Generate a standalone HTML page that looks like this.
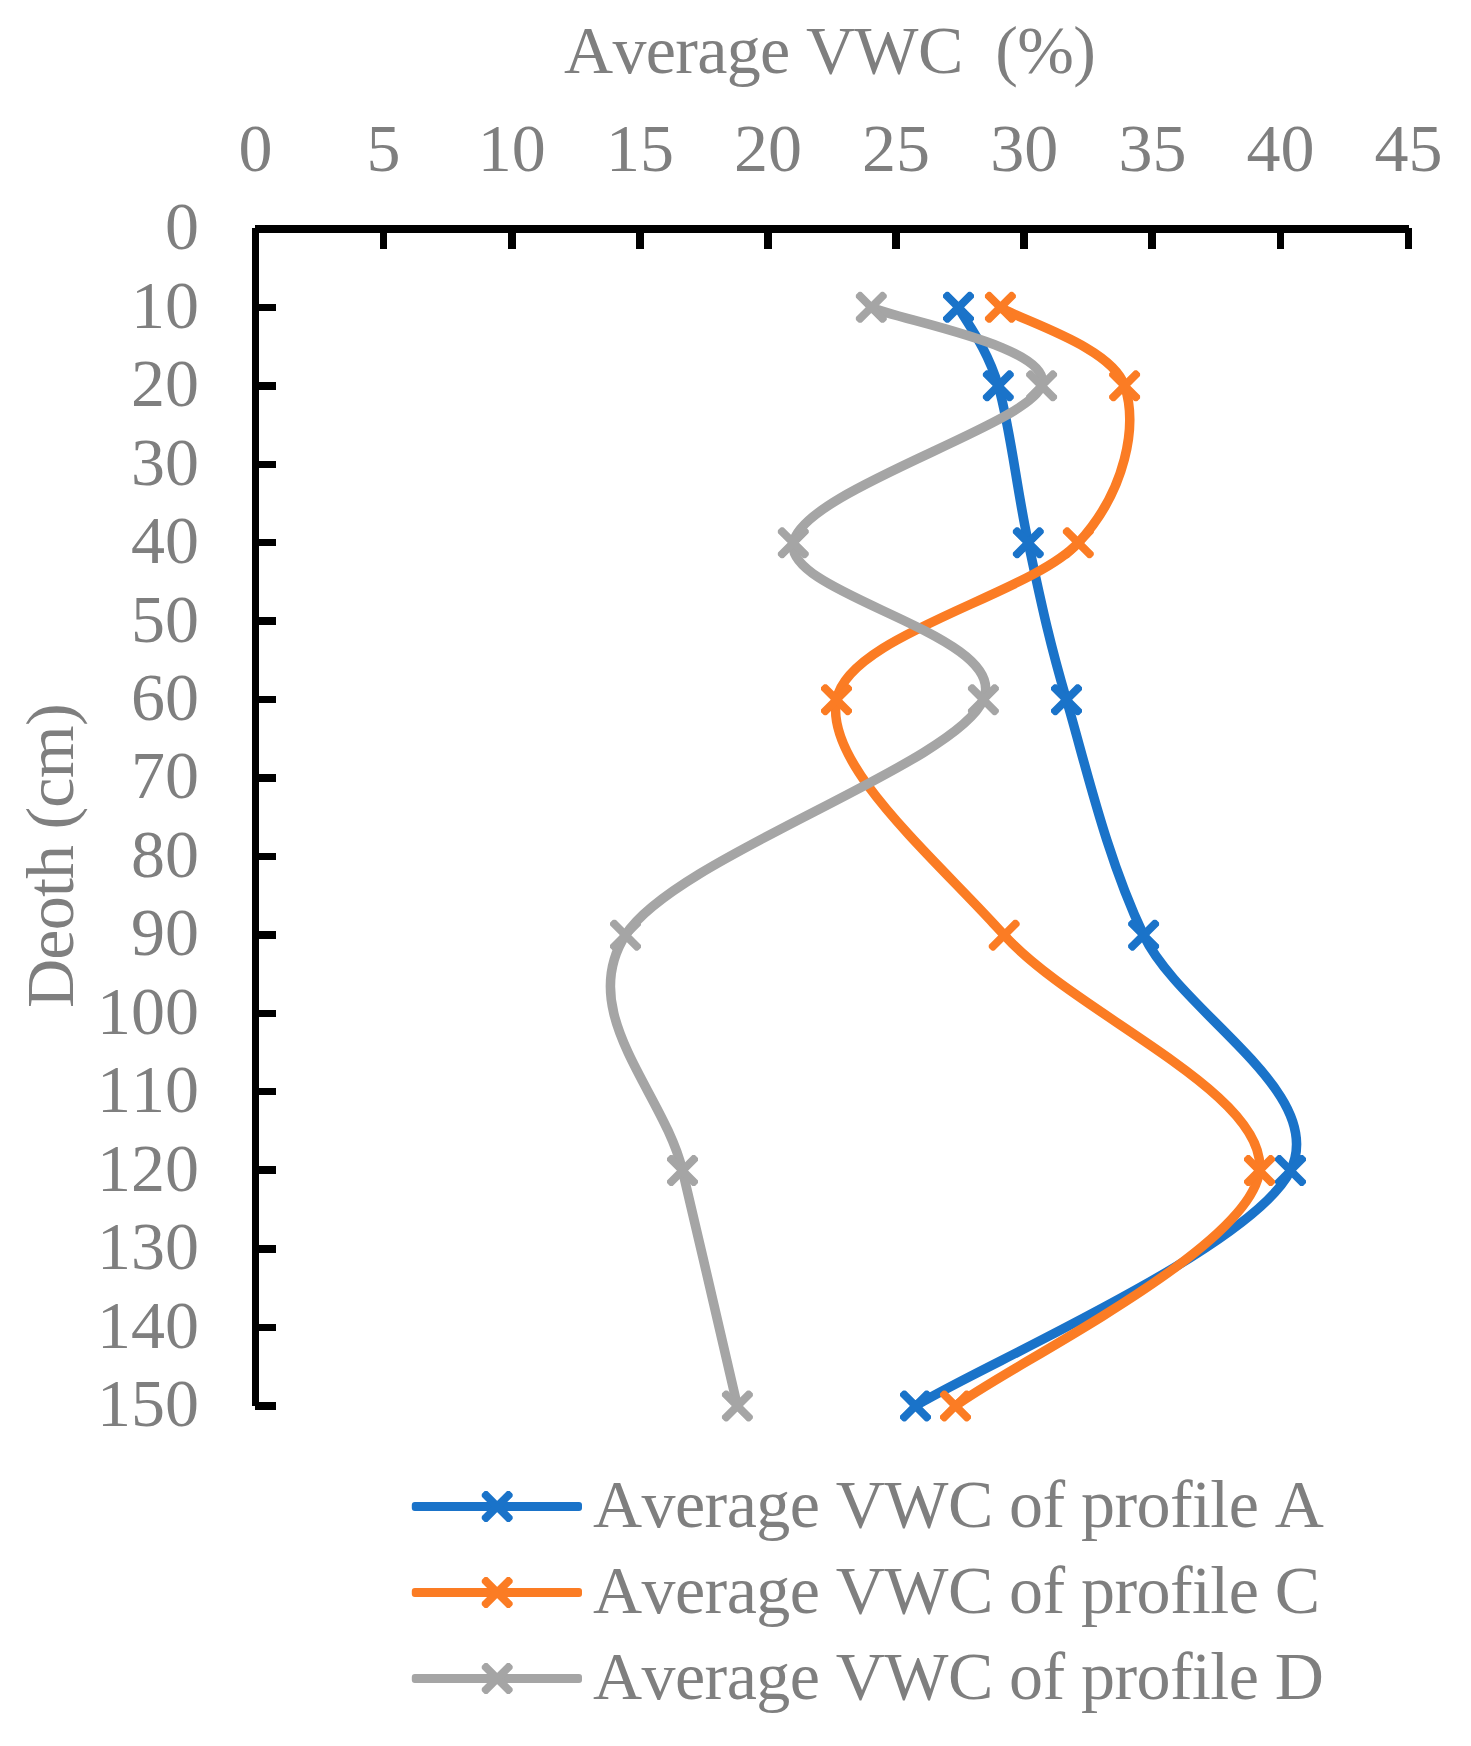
<!DOCTYPE html>
<html><head><meta charset="utf-8"><style>
html,body{margin:0;padding:0;background:#fff;}
svg{display:block;} text{font-kerning:none;font-feature-settings:"kern" 0, "liga" 0;}
</style></head><body>
<svg width="1471" height="1746" viewBox="0 0 1471 1746">
<defs><clipPath id="xc" clipPathUnits="objectBoundingBox"><rect x="-0.05357" y="-0.05357" width="1.10714" height="1.10714"/></clipPath></defs>
<rect width="1471" height="1746" fill="#fff"/>
<rect x="255" y="225" width="1154" height="8" fill="#000"/>
<rect x="252" y="228" width="7" height="1178" fill="#000"/>
<rect x="380" y="233" width="7" height="16" fill="#000"/>
<rect x="508" y="233" width="8" height="16" fill="#000"/>
<rect x="636" y="233" width="8" height="16" fill="#000"/>
<rect x="764" y="233" width="8" height="16" fill="#000"/>
<rect x="892" y="233" width="8" height="16" fill="#000"/>
<rect x="1020" y="233" width="8" height="16" fill="#000"/>
<rect x="1148" y="233" width="8" height="16" fill="#000"/>
<rect x="1277" y="233" width="7" height="16" fill="#000"/>
<rect x="1405" y="228" width="7" height="21" fill="#000"/>
<rect x="259" y="304" width="17" height="7" fill="#000"/>
<rect x="259" y="382" width="17" height="8" fill="#000"/>
<rect x="259" y="461" width="17" height="7" fill="#000"/>
<rect x="259" y="539" width="17" height="7" fill="#000"/>
<rect x="259" y="617" width="17" height="8" fill="#000"/>
<rect x="259" y="696" width="17" height="7" fill="#000"/>
<rect x="259" y="774" width="17" height="8" fill="#000"/>
<rect x="259" y="853" width="17" height="7" fill="#000"/>
<rect x="259" y="931" width="17" height="8" fill="#000"/>
<rect x="259" y="1010" width="17" height="7" fill="#000"/>
<rect x="259" y="1088" width="17" height="7" fill="#000"/>
<rect x="259" y="1166" width="17" height="8" fill="#000"/>
<rect x="259" y="1245" width="17" height="8" fill="#000"/>
<rect x="259" y="1324" width="17" height="7" fill="#000"/>
<rect x="255" y="1402" width="21" height="8" fill="#000"/>
<path d="M958.50,307.37 C965.13,320.45 986.67,346.61 998.30,385.84 C1009.93,425.08 1016.93,490.47 1028.30,542.78 C1039.67,595.09 1047.28,634.33 1066.50,699.72 C1085.72,765.11 1106.27,856.66 1143.60,935.13 C1180.93,1013.60 1328.52,1092.07 1290.50,1170.54 C1252.48,1249.01 978.00,1366.72 915.50,1405.95" stroke="#1A73C9" stroke-width="9.5" fill="none" stroke-linejoin="round" stroke-linecap="round"/>
<path d="M944.50,293.37 L972.50,321.37 M944.50,321.37 L972.50,293.37" stroke="#1A73C9" stroke-width="8" fill="none" clip-path="url(#xc)"/>
<path d="M984.30,371.84 L1012.30,399.84 M984.30,399.84 L1012.30,371.84" stroke="#1A73C9" stroke-width="8" fill="none" clip-path="url(#xc)"/>
<path d="M1014.30,528.78 L1042.30,556.78 M1014.30,556.78 L1042.30,528.78" stroke="#1A73C9" stroke-width="8" fill="none" clip-path="url(#xc)"/>
<path d="M1052.50,685.72 L1080.50,713.72 M1052.50,713.72 L1080.50,685.72" stroke="#1A73C9" stroke-width="8" fill="none" clip-path="url(#xc)"/>
<path d="M1129.60,921.13 L1157.60,949.13 M1129.60,949.13 L1157.60,921.13" stroke="#1A73C9" stroke-width="8" fill="none" clip-path="url(#xc)"/>
<path d="M1276.50,1156.54 L1304.50,1184.54 M1276.50,1184.54 L1304.50,1156.54" stroke="#1A73C9" stroke-width="8" fill="none" clip-path="url(#xc)"/>
<path d="M901.50,1391.95 L929.50,1419.95 M901.50,1419.95 L929.50,1391.95" stroke="#1A73C9" stroke-width="8" fill="none" clip-path="url(#xc)"/>
<path d="M1000.40,307.37 C1021.10,320.45 1111.62,346.61 1124.60,385.84 C1137.58,425.08 1126.32,490.47 1078.30,542.78 C1030.28,595.09 848.85,634.33 836.50,699.72 C824.15,765.11 933.70,856.66 1004.20,935.13 C1074.70,1013.60 1267.62,1092.07 1259.50,1170.54 C1251.38,1249.01 1006.17,1366.72 955.50,1405.95" stroke="#FB7C24" stroke-width="9.5" fill="none" stroke-linejoin="round" stroke-linecap="round"/>
<path d="M986.40,293.37 L1014.40,321.37 M986.40,321.37 L1014.40,293.37" stroke="#FB7C24" stroke-width="8" fill="none" clip-path="url(#xc)"/>
<path d="M1110.60,371.84 L1138.60,399.84 M1110.60,399.84 L1138.60,371.84" stroke="#FB7C24" stroke-width="8" fill="none" clip-path="url(#xc)"/>
<path d="M1064.30,528.78 L1092.30,556.78 M1064.30,556.78 L1092.30,528.78" stroke="#FB7C24" stroke-width="8" fill="none" clip-path="url(#xc)"/>
<path d="M822.50,685.72 L850.50,713.72 M822.50,713.72 L850.50,685.72" stroke="#FB7C24" stroke-width="8" fill="none" clip-path="url(#xc)"/>
<path d="M990.20,921.13 L1018.20,949.13 M990.20,949.13 L1018.20,921.13" stroke="#FB7C24" stroke-width="8" fill="none" clip-path="url(#xc)"/>
<path d="M1245.50,1156.54 L1273.50,1184.54 M1245.50,1184.54 L1273.50,1156.54" stroke="#FB7C24" stroke-width="8" fill="none" clip-path="url(#xc)"/>
<path d="M941.50,1391.95 L969.50,1419.95 M941.50,1419.95 L969.50,1391.95" stroke="#FB7C24" stroke-width="8" fill="none" clip-path="url(#xc)"/>
<path d="M871.30,307.37 C899.68,320.45 1054.60,346.61 1041.60,385.84 C1028.60,425.08 803.00,490.47 793.30,542.78 C783.60,595.09 1011.37,634.33 983.40,699.72 C955.43,765.11 675.65,856.66 625.50,935.13 C575.35,1013.60 663.85,1092.07 682.50,1170.54 C701.15,1249.01 728.25,1366.72 737.40,1405.95" stroke="#A5A5A5" stroke-width="9.5" fill="none" stroke-linejoin="round" stroke-linecap="round"/>
<path d="M857.30,293.37 L885.30,321.37 M857.30,321.37 L885.30,293.37" stroke="#A5A5A5" stroke-width="8" fill="none" clip-path="url(#xc)"/>
<path d="M1027.60,371.84 L1055.60,399.84 M1027.60,399.84 L1055.60,371.84" stroke="#A5A5A5" stroke-width="8" fill="none" clip-path="url(#xc)"/>
<path d="M779.30,528.78 L807.30,556.78 M779.30,556.78 L807.30,528.78" stroke="#A5A5A5" stroke-width="8" fill="none" clip-path="url(#xc)"/>
<path d="M969.40,685.72 L997.40,713.72 M969.40,713.72 L997.40,685.72" stroke="#A5A5A5" stroke-width="8" fill="none" clip-path="url(#xc)"/>
<path d="M611.50,921.13 L639.50,949.13 M611.50,949.13 L639.50,921.13" stroke="#A5A5A5" stroke-width="8" fill="none" clip-path="url(#xc)"/>
<path d="M668.50,1156.54 L696.50,1184.54 M668.50,1184.54 L696.50,1156.54" stroke="#A5A5A5" stroke-width="8" fill="none" clip-path="url(#xc)"/>
<path d="M723.40,1391.95 L751.40,1419.95 M723.40,1419.95 L751.40,1391.95" stroke="#A5A5A5" stroke-width="8" fill="none" clip-path="url(#xc)"/>
<g font-family="Liberation Serif, serif" fill="#7F7F7F" font-size="68">
<text x="255.5" y="171" text-anchor="middle">0</text>
<text x="383.6" y="171" text-anchor="middle">5</text>
<text x="511.8" y="171" text-anchor="middle">10</text>
<text x="639.9" y="171" text-anchor="middle">15</text>
<text x="768.0" y="171" text-anchor="middle">20</text>
<text x="896.1" y="171" text-anchor="middle">25</text>
<text x="1024.2" y="171" text-anchor="middle">30</text>
<text x="1152.4" y="171" text-anchor="middle">35</text>
<text x="1280.5" y="171" text-anchor="middle">40</text>
<text x="1408.6" y="171" text-anchor="middle">45</text>
<text x="199" y="249.1" text-anchor="end">0</text>
<text x="199" y="327.6" text-anchor="end">10</text>
<text x="199" y="406.0" text-anchor="end">20</text>
<text x="199" y="484.5" text-anchor="end">30</text>
<text x="199" y="563.0" text-anchor="end">40</text>
<text x="199" y="641.5" text-anchor="end">50</text>
<text x="199" y="719.9" text-anchor="end">60</text>
<text x="199" y="798.4" text-anchor="end">70</text>
<text x="199" y="876.9" text-anchor="end">80</text>
<text x="199" y="955.3" text-anchor="end">90</text>
<text x="199" y="1033.8" text-anchor="end">100</text>
<text x="199" y="1112.3" text-anchor="end">110</text>
<text x="199" y="1190.7" text-anchor="end">120</text>
<text x="199" y="1269.2" text-anchor="end">130</text>
<text x="199" y="1347.7" text-anchor="end">140</text>
<text x="199" y="1426.2" text-anchor="end">150</text>
<text x="564" y="72.5" letter-spacing="-0.67">Average VWC&#160; (%)</text>
<text transform="translate(72.5,1008) rotate(-90)" letter-spacing="-0.78">Deoth (cm)</text>
<rect x="411.8" y="1502.0" width="170.2" height="9" rx="3" fill="#1A73C9"/>
<path d="M483.20,1492.50 L511.20,1520.50 M483.20,1520.50 L511.20,1492.50" stroke="#1A73C9" stroke-width="8" fill="none" clip-path="url(#xc)"/>
<text x="593" y="1527.1" letter-spacing="-0.57">Average VWC of profile A</text>
<rect x="411.8" y="1588.0" width="170.2" height="9" rx="3" fill="#FB7C24"/>
<path d="M483.20,1578.50 L511.20,1606.50 M483.20,1606.50 L511.20,1578.50" stroke="#FB7C24" stroke-width="8" fill="none" clip-path="url(#xc)"/>
<text x="593" y="1613.1" letter-spacing="-0.57">Average VWC of profile C</text>
<rect x="411.8" y="1674.0" width="170.2" height="9" rx="3" fill="#A5A5A5"/>
<path d="M483.20,1664.50 L511.20,1692.50 M483.20,1692.50 L511.20,1664.50" stroke="#A5A5A5" stroke-width="8" fill="none" clip-path="url(#xc)"/>
<text x="593" y="1699.1" letter-spacing="-0.57">Average VWC of profile D</text>
</g>
</svg>
</body></html>
